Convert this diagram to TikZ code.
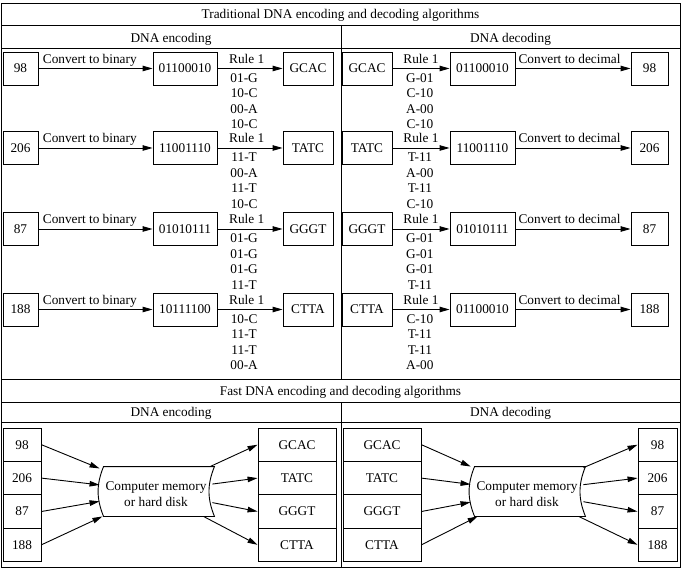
\documentclass[tikz,border=0pt]{standalone}
\usepackage{fontspec}
\setmainfont{Liberation Serif}
\usetikzlibrary{arrows.meta}

\begin{document}
\begin{tikzpicture}[x=1pt, y=-1pt, line width=0.9pt,
    font=\fontsize{13.3pt}{15.5pt}\selectfont,
    >={Triangle[length=10pt,width=5.5pt]}]
  \tikzset{box/.style={draw, minimum height=33pt, inner sep=1pt},
    fastbox/.style={draw, minimum height=33.4pt, inner sep=1pt},
    lab/.style={anchor=base, yshift=5pt, inner sep=0pt},
    rules/.style={anchor=north, yshift=-4.5pt, inner sep=0pt, align=center},
    memory/.style={align=center, inner sep=0pt, text height=30pt, minimum width=112pt, minimum height=49pt}}
  \useasboundingbox (0,0) rectangle (685,569);
  % frame and headers
  \draw (1,3) rectangle (680,567);
  \foreach \y in {25,48,379,402,422} \draw (1,\y) -- (680,\y);
  \draw (341,25) -- (341,379) (341,402) -- (341,567);
  \node[anchor=base] (tradhead) at (340.5,19) {Traditional DNA encoding and decoding algorithms};
  \node[anchor=base] (tradenc) at (171,42.5) {DNA encoding};
  \node[anchor=base] (traddec) at (510.5,42.5) {DNA decoding};
  \node[anchor=base] (fasthead) at (340.5,395.5) {Fast DNA encoding and decoding algorithms};
  \node[anchor=base] (fastenc) at (171,416.5) {DNA encoding};
  \node[anchor=base] (fastdec) at (510.5,416.5) {DNA decoding};
  % traditional encoding
  \foreach \y/\dec/\bin/\dna/\map [count=\i] in {68.5/98/01100010/GCAC/{01-G\\10-C\\00-A\\10-C},
      148/206/11001110/TATC/{11-T\\00-A\\11-T\\10-C}, 229/87/01010111/GGGT/{01-G\\01-G\\01-G\\11-T},
      309.5/188/10111100/CTTA/{10-C\\11-T\\11-T\\00-A}} {
    \node[box, minimum width=35pt] (num\i) at (20.5,\y) {\dec};
    \node[box, minimum width=64pt] (bin\i) at (185,\y) {\bin};
    \node[box, minimum width=50pt] (dna\i) at (308,\y) {\dna};
    \draw[->] (num\i) -- node[lab, pos=0.45] (conv\i) {Convert to binary} (bin\i);
    \draw[->] (bin\i) -- node[lab, pos=0.45] (rule\i) {Rule 1} node[rules, pos=0.41] (map\i) {\map} (dna\i);
  }
  % traditional decoding
  \foreach \y/\dna/\bin/\dec/\map [count=\i] in {68.5/GCAC/01100010/98/{G-01\\C-10\\A-00\\C-10},
      148/TATC/11001110/206/{T-11\\A-00\\T-11\\C-10}, 229/GGGT/01010111/87/{G-01\\G-01\\G-01\\T-11},
      309.5/CTTA/01100010/188/{C-10\\T-11\\T-11\\A-00}} {
    \node[box, minimum width=50pt] (ddna\i) at (367,\y) {\dna};
    \node[box, minimum width=65pt] (dbin\i) at (482.5,\y) {\bin};
    \node[box, minimum width=37pt] (dnum\i) at (649.5,\y) {\dec};
    \draw[->] (ddna\i) -- node[lab] (drule\i) {Rule 1} node[rules, pos=0.48] (dmap\i) {\map} (dbin\i);
    \draw[->] (dbin\i) -- node[lab, pos=0.47] (dconv\i) {Convert to decimal} (dnum\i);
  }
  % fast encoding and decoding
  \node[memory] (mem1) at (156,491.5) {Computer memory\\or hard disk};
  \node[memory] (mem2) at (527,491.5) {Computer memory\\or hard disk};
  \foreach \m in {mem1,mem2}
    \draw ([xshift=4pt]\m.north west) to[bend right=22] ([xshift=4pt]\m.south west)
      -- ([xshift=2pt]\m.south east) to[bend left=22] ([xshift=2pt]\m.north east) -- cycle;
  \foreach \y/\dec/\dna [count=\i] in {444.7/98/GCAC, 478.1/206/TATC, 511.5/87/GGGT, 544.8/188/CTTA} {
    \node[fastbox, minimum width=38pt] (fnum\i) at (22,\y) {\dec};
    \node[fastbox, minimum width=78pt] (fdna\i) at (297,\y) {\dna};
    \node[fastbox, minimum width=78pt] (gdna\i) at (382,\y) {\dna};
    \node[fastbox, minimum width=39pt] (gnum\i) at (657.5,\y) {\dec};
    \draw[->] (fnum\i.east) -- (mem1);
    \draw[->] (mem1) -- (fdna\i.west);
    \draw[->] (gdna\i.east) -- (mem2);
    \draw[->] (mem2) -- (gnum\i.west);
  }
\end{tikzpicture}
\end{document}
